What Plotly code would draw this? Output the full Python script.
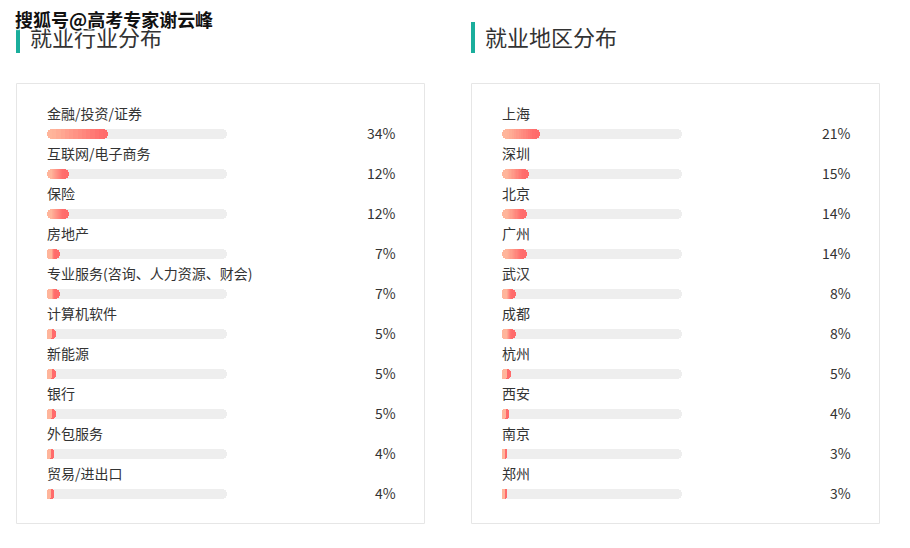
import plotly.graph_objects as go

W, H = 910, 548

ind_labels = ["金融/投资/证券", "互联网/电子商务", "保险", "房地产",
              "专业服务(咨询、人力资源、财会)", "计算机软件", "新能源", "银行",
              "外包服务", "贸易/进出口"]
ind_values = [34, 12, 12, 7, 7, 5, 5, 5, 4, 4]

reg_labels = ["上海", "深圳", "北京", "广州", "武汉", "成都", "杭州", "西安", "南京", "郑州"]
reg_values = [21, 15, 14, 14, 8, 8, 5, 4, 3, 3]

titles = ["就业行业分布", "就业地区分布"]
watermark = "搜狐号@高考专家谢云峰"

FONT = "Noto Sans CJK SC, Noto Sans, sans-serif"
TXT = "#333333"
TRACK = "#EEEEEE"
C0 = (255, 181, 155)
C1 = (255, 107, 107)
TEAL = "#1AAE9C"
BORDER = "#E6E6E6"

panels = [
    dict(box=(16, 425), bar=(47, 227), pct=395, bar_x=16, title_x=30),
    dict(box=(471, 880), bar=(502, 682), pct=850, bar_x=471, title_x=485),
]
ROW0, STEP, BARH = 134, 40, 10
RAD = 5

fig = go.Figure()


def col(t):
    r = [round(C0[k] + (C1[k] - C0[k]) * t) for k in range(3)]
    return "rgb(%d,%d,%d)" % tuple(r)


layout_axes = {}
annotations = []
shapes = []
K = 12

for p_i, (labels, values) in enumerate([(ind_labels, ind_values), (reg_labels, reg_values)]):
    P = panels[p_i]
    xa = "x" if p_i == 0 else "x2"
    ya = "y" if p_i == 0 else "y2"
    n = len(labels)
    rows = list(range(n))
    px_per_unit = (P["bar"][1] - P["bar"][0]) / 100.0
    r_u = RAD / px_per_unit
    bw = BARH / STEP

    common = dict(orientation="h", y=rows, width=bw, xaxis=xa, yaxis=ya,
                  hoverinfo="skip", showlegend=False)
    # track
    fig.add_trace(go.Bar(x=[100] * n, base=[0] * n,
                         marker=dict(color=TRACK, cornerradius=RAD, line_width=0), **common))
    # fill (rounded both ends), left half light, right half dark
    fig.add_trace(go.Bar(x=values, base=[0] * n,
                         marker=dict(color=col(1), cornerradius=RAD, line_width=0), **common))
    fig.add_trace(go.Bar(x=[v / 2 for v in values], base=[0] * n,
                         marker=dict(color=col(0), cornerradius=RAD, line_width=0), **common))
    # gradient interior segments
    for j in range(K):
        bases, lens = [], []
        for v in values:
            inner = max(v - 2 * r_u, 0)
            bases.append(r_u + inner * j / K)
            lens.append(inner / K + (0.05 if inner > 0 else 0))
        fig.add_trace(go.Bar(x=lens, base=bases,
                             marker=dict(color=col((j + 0.5) / K), line_width=0), **common))

    layout_axes["xaxis" if p_i == 0 else "xaxis2"] = dict(
        domain=[P["bar"][0] / W, P["bar"][1] / W], range=[0, 100], visible=False,
        fixedrange=True, anchor=ya)
    layout_axes["yaxis" if p_i == 0 else "yaxis2"] = dict(
        domain=[0, 1], range=[(H - ROW0) / STEP, -ROW0 / STEP], visible=False,
        fixedrange=True, anchor=xa)

    for i, (lab, v) in enumerate(zip(labels, values)):
        annotations.append(dict(text=lab, xref=xa, yref=ya, x=0, y=i - 19.5 / STEP,
                                xanchor="left", yanchor="middle", showarrow=False,
                                xshift=-2, yshift=2,
                                font=dict(family=FONT, size=14, color=TXT)))
        annotations.append(dict(text="%d%%" % v, xref="paper", yref=ya, x=P["pct"] / W, y=i,
                                xanchor="right", yanchor="middle", showarrow=False,
                                xshift=3, yshift=1,
                                font=dict(family=FONT, size=14, color=TXT)))

    shapes.append(dict(type="rect", xref="paper", yref="paper",
                       x0=(P["box"][0] + 0.5) / W, x1=(P["box"][1] - 0.5) / W,
                       y0=1 - 523.5 / H, y1=1 - 83.5 / H,
                       line=dict(color=BORDER, width=1), fillcolor="rgba(0,0,0,0)", layer="below"))
    shapes.append(dict(type="rect", xref="paper", yref="paper",
                       x0=P["bar_x"] / W, x1=(P["bar_x"] + 4) / W,
                       y0=1 - 53 / H, y1=1 - 22 / H,
                       line=dict(width=0), fillcolor=TEAL))
    annotations.append(dict(text=titles[p_i], xref="paper", yref="paper",
                            x=P["title_x"] / W, y=1 - 38 / H, xanchor="left", yanchor="middle",
                            showarrow=False, xshift=-2, yshift=2,
                            font=dict(family=FONT, size=22, color=TXT)))

annotations.append(dict(text="<b>%s</b>" % watermark, xref="paper", yref="paper",
                        x=13 / W, y=1 - 19 / H, xanchor="left", yanchor="middle",
                        showarrow=False,
                        font=dict(family=FONT, size=18, color="#111111",
                                  shadow="1px 1px 1px #ffffff, -1px -1px 1px #ffffff, 1px -1px 1px #ffffff, -1px 1px 1px #ffffff")))

fig.update_layout(
    width=W, height=H, margin=dict(l=0, r=0, t=0, b=0),
    paper_bgcolor="white", plot_bgcolor="rgba(0,0,0,0)",
    barmode="overlay", bargap=0,
    annotations=annotations, shapes=shapes,
    **layout_axes,
)

fig.write_html("out.html", config={"displayModeBar": False})
